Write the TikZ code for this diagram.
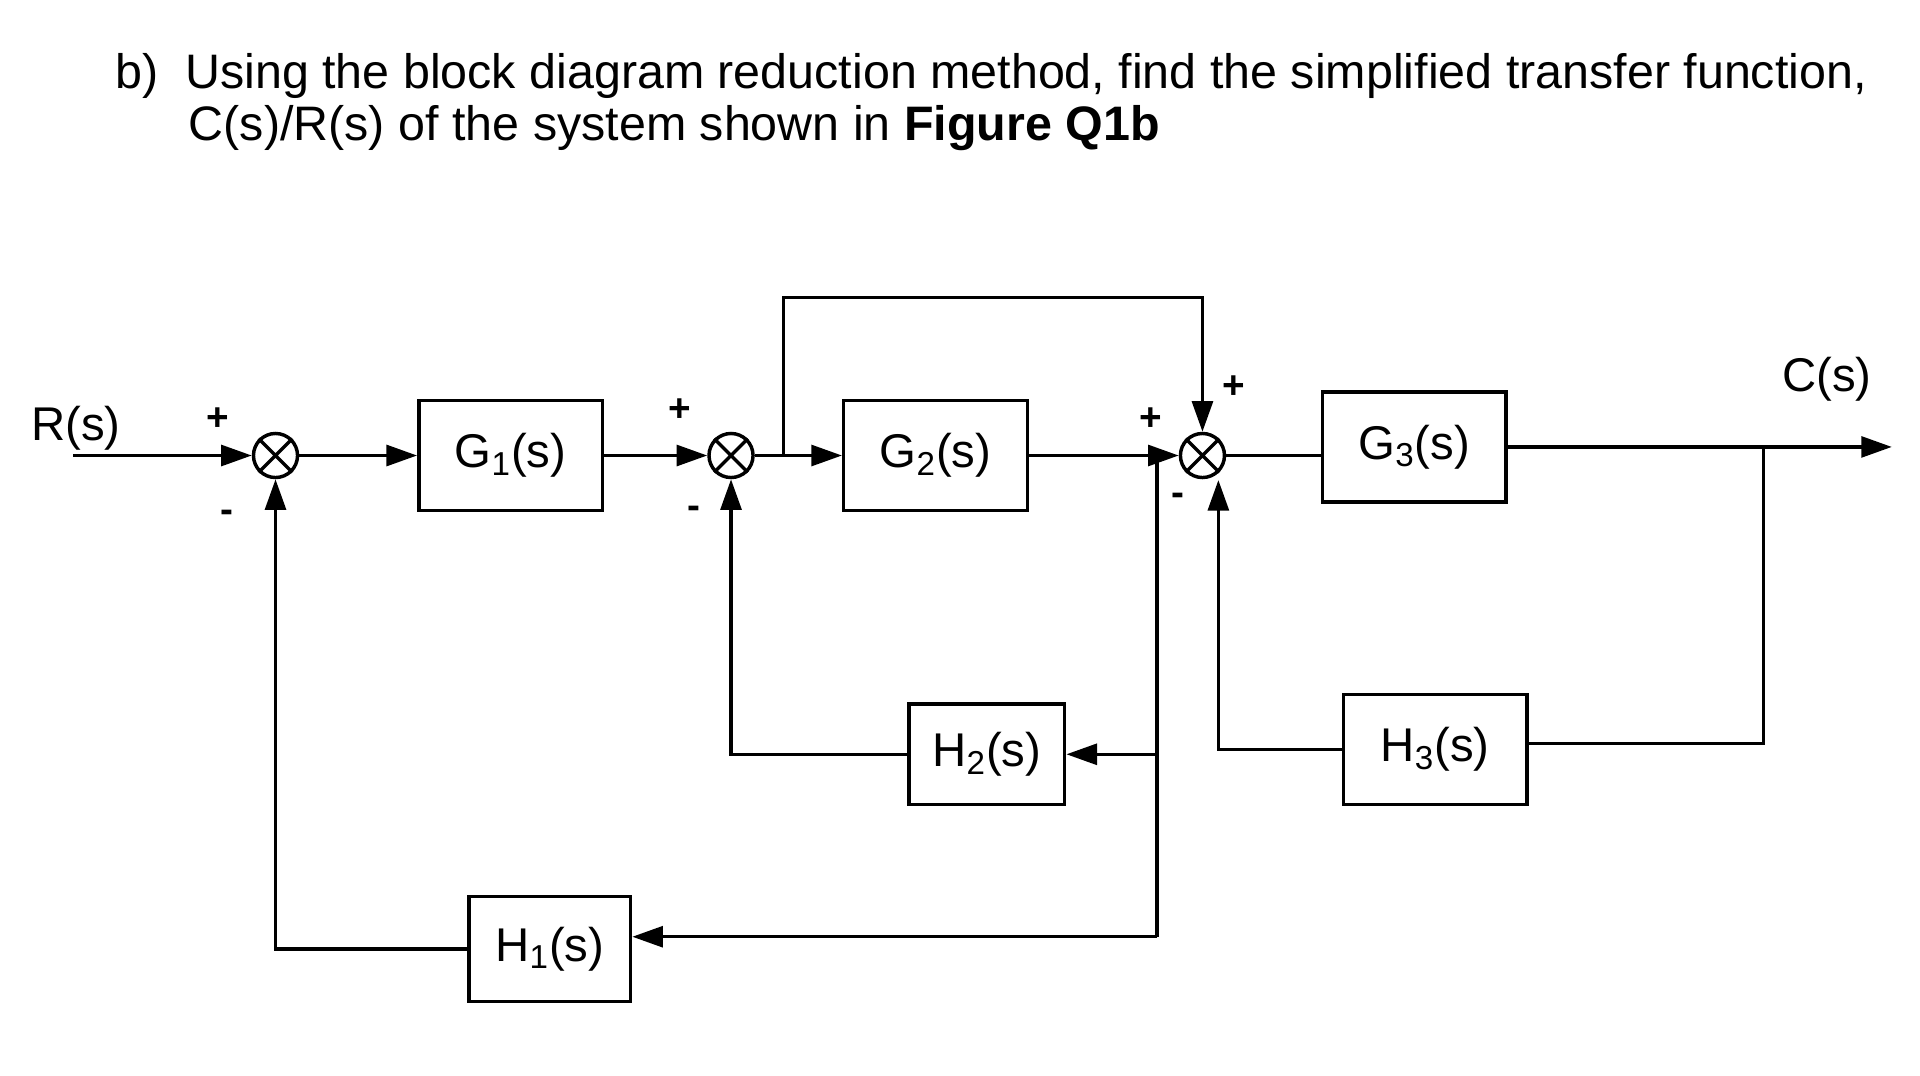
\documentclass[tikz,border=0pt]{standalone}
\usepackage{fontspec}
\setmainfont{Liberation Sans}
\usetikzlibrary{arrows.meta}
\begin{document}
\begin{tikzpicture}[x=0.02cm,y=-0.02cm,
  blk/.style={draw,line width=1.6pt,minimum width=3cm,minimum height=1.8cm,font=\fontsize{22}{26}\selectfont},
  sumj/.style={draw,circle,line width=1.6pt,minimum size=0.72cm,inner sep=0pt},
  ln/.style={line width=1.6pt},
  ar/.style={ln,-{Triangle[length=0.5cm,width=0.34cm]}},
  lbl/.style={font=\fontsize{22}{26}\selectfont},
  sg/.style={font=\fontsize{18}{20}\selectfont\bfseries}]
\useasboundingbox[fill=white] (0,0) rectangle (1568,878);
\node[anchor=base west,font=\fontsize{22.5}{27}\selectfont] (t1) at (88,72) {b)\ \ Using the block diagram reduction method, find the simplified transfer function,};
\node[anchor=base west,font=\fontsize{22.5}{27}\selectfont] (t2) at (148,115) {C(s)/R(s) of the system shown in \textbf{Figure Q1b}};
\node[sumj] (s1) at (225,372) {};
\node[sumj] (s2) at (597,372) {};
\node[sumj] (s3) at (982,372) {};
\foreach \s in {s1,s2,s3}{\draw[ln] (\s.north west)--(\s.south east) (\s.north east)--(\s.south west);}
\node[blk] (g1) at (417,372) {G\textsubscript{1}(s)};
\node[blk] (g2) at (764,372) {G\textsubscript{2}(s)};
\node[blk] (g3) at (1155,365) {G\textsubscript{3}(s)};
\node[blk,minimum width=2.54cm,minimum height=1.64cm] (h2) at (806,616) {H\textsubscript{2}(s)};
\node[blk] (h3) at (1172,612) {H\textsubscript{3}(s)};
\node[blk,minimum width=2.64cm,minimum height=1.72cm] (h1) at (449,775) {H\textsubscript{1}(s)};
\node[lbl] (r) at (62,350) {R(s)};
\node[lbl] (c) at (1492,310) {C(s)};
\coordinate (rin) at (60,372);
\coordinate (cout) at (1545,358);
\node[sg] at (178,342) {+}; \node[sg] at (185,422) {-};
\node[sg] at (555,335) {+}; \node[sg] at (567,418) {-};
\node[sg] at (1008,316) {+}; \node[sg] at (940,342) {+}; \node[sg] at (962,408) {-};
\draw[ar] (rin) -- (s1.west);
\draw[ar] (s1.east) -- (g1.west);
\draw[ar] (g1.east) -- (s2.west);
\draw[ar] (s2.east) -- (g2.west);
\draw[ar] (g2.east) -- (s3.west);
\draw[ln] (s3.east) -- (s3.east -| g3.west);
\draw[ar] (g3.east) -- (g3.east -| cout);
\coordinate (ff) at (640,372);
\draw[ar] (ff) -- (640,243) -- (982,243) -- (s3.north);
\draw[ln] (1440,365) -- (1440,607) -- (h3.east |- 0,607);
\draw[ar] (h3.west) -- (995,612) -- (995,392);
\draw[ln] (945,372) -- (945,765);
\draw[ar] (945,616) -- (h2.east);
\draw[ar] (h2.west) -- (597,616) -- (s2.south);
\draw[ar] (945,765) -- (h1.east |- 0,765);
\draw[ar] (h1.west) -- (s1.south |- h1.west) -- (s1.south);
\end{tikzpicture}
\end{document}
